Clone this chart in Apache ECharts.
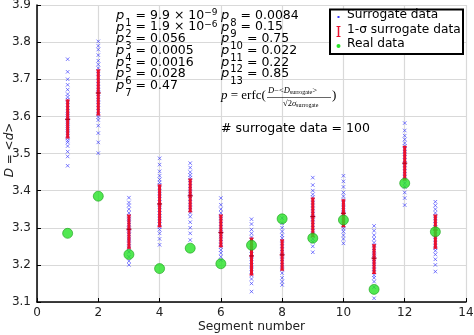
<!DOCTYPE html>
<html><head><meta charset="utf-8">
<script src="https://cdn.jsdelivr.net/npm/echarts@6/dist/echarts.min.js"></script>
<style>html,body{margin:0;padding:0;background:#fff}#c{width:474px;height:335px}</style>
</head><body><div id="c"></div>
<script>
// ---- data ----
const segments = [1,2,3,4,5,6,7,8,9,10,11,12,13];
const realData = [3.285,3.385,3.228,3.190,3.245,3.203,3.253,3.324,3.272,3.321,3.134,3.420,3.289];
const sigmaMean = [3.592,3.663,3.296,3.364,3.386,3.287,3.224,3.227,3.330,3.339,3.218,3.474,3.294];
const sigmaLow  = [3.542,3.604,3.245,3.303,3.343,3.249,3.173,3.186,3.276,3.303,3.177,3.429,3.245];
const sigmaHigh = [3.644,3.725,3.334,3.415,3.431,3.334,3.272,3.267,3.380,3.375,3.254,3.519,3.334];
const surrogateSeg1 = [3.467,3.492,3.505,3.52,3.53,3.535,3.542,3.548,3.555,3.56,3.565,3.57,3.575,3.58,3.585,3.59,3.595,3.6,3.605,3.61,3.615,3.622,3.63,3.638,3.645,3.652,3.66,3.672,3.685,3.7,3.72,3.754];
const surrogateSeg2 = [3.501,3.53,3.555,3.575,3.59,3.598,3.605,3.615,3.622,3.63,3.638,3.645,3.652,3.66,3.665,3.672,3.68,3.688,3.695,3.705,3.715,3.722,3.73,3.74,3.75,3.765,3.78,3.79,3.802];
const surrogateSeg3 = [3.20,3.21,3.222,3.235,3.245,3.25,3.258,3.265,3.27,3.275,3.282,3.288,3.292,3.298,3.302,3.308,3.315,3.32,3.325,3.332,3.34,3.35,3.36,3.368,3.381];
const surrogateSeg4 = [3.254,3.27,3.285,3.295,3.302,3.31,3.318,3.325,3.332,3.34,3.348,3.355,3.362,3.37,3.378,3.385,3.392,3.4,3.408,3.415,3.422,3.43,3.44,3.452,3.47,3.487];
const surrogateSeg5 = [3.267,3.285,3.3,3.315,3.33,3.34,3.348,3.355,3.362,3.37,3.378,3.385,3.392,3.398,3.405,3.412,3.42,3.428,3.435,3.442,3.45,3.462,3.474];
const surrogateSeg6 = [3.213,3.222,3.232,3.24,3.248,3.255,3.262,3.27,3.276,3.282,3.288,3.295,3.302,3.31,3.318,3.325,3.332,3.34,3.35,3.362,3.38];
const surrogateSeg7 = [3.128,3.15,3.162,3.172,3.18,3.188,3.195,3.2,3.208,3.215,3.222,3.23,3.238,3.245,3.252,3.26,3.268,3.275,3.285,3.295,3.31,3.323];
const surrogateSeg8 = [3.146,3.155,3.165,3.178,3.188,3.195,3.2,3.208,3.215,3.222,3.228,3.235,3.242,3.25,3.258,3.265,3.272,3.28,3.29,3.3,3.312,3.326];
const surrogateSeg9 = [3.234,3.25,3.262,3.27,3.278,3.285,3.292,3.3,3.308,3.315,3.322,3.33,3.338,3.345,3.352,3.36,3.368,3.375,3.382,3.39,3.4,3.415,3.435];
const surrogateSeg10 = [3.258,3.27,3.28,3.29,3.298,3.305,3.312,3.318,3.325,3.33,3.336,3.342,3.348,3.355,3.362,3.368,3.375,3.385,3.395,3.41,3.425,3.44];
const surrogateSeg11 = [3.11,3.14,3.155,3.165,3.172,3.18,3.188,3.195,3.202,3.208,3.215,3.22,3.226,3.232,3.238,3.245,3.252,3.26,3.27,3.28,3.292,3.305];
const surrogateSeg12 = [3.361,3.38,3.395,3.41,3.42,3.43,3.438,3.445,3.452,3.46,3.468,3.475,3.482,3.49,3.498,3.505,3.512,3.52,3.528,3.538,3.548,3.562,3.582];
const surrogateSeg13 = [3.182,3.2,3.215,3.228,3.238,3.245,3.252,3.26,3.268,3.275,3.282,3.29,3.296,3.302,3.31,3.318,3.325,3.332,3.34,3.35,3.36,3.37];
const surrogateAll = [surrogateSeg1,surrogateSeg2,surrogateSeg3,surrogateSeg4,surrogateSeg5,surrogateSeg6,surrogateSeg7,surrogateSeg8,surrogateSeg9,surrogateSeg10,surrogateSeg11,surrogateSeg12,surrogateSeg13];
const pValues = ['9.9 × 10^−9','1.9 × 10^−6','0.056','0.0005','0.0016','0.028','0.47','0.0084','0.15','0.75','0.022','0.22','0.85'];
const xTicks = [0,2,4,6,8,10,12,14];
const yTicks = [3.1,3.2,3.3,3.4,3.5,3.6,3.7,3.8,3.9];
const legendLabels = ['Surrogate data','1-σ surrogate data','Real data'];
const xTitle = 'Segment number';
const surrogateCount = 100;

// ---- build ----
const RED = '#e8102e', BLUE = '#3b3bff', GREEN = '#26e226';
const FONT = 'DejaVu Sans';
const surrogatePts = [];
surrogateAll.forEach((arr, i) => arr.forEach(v => surrogatePts.push([segments[i], v])));
const errData = segments.map((s, i) => [s, sigmaLow[i], sigmaHigh[i], sigmaMean[i]]);
const realPts = segments.map((s, i) => [s, realData[i]]);

const richStyles = {
  b: {fontFamily: FONT, fontSize: 12.5, lineHeight: 14, padding: [4,0,0,0], verticalAlign: 'top', color: '#000'},
  i: {fontFamily: FONT, fontStyle: 'italic', fontSize: 13, lineHeight: 14, padding: [4,0,0,0], verticalAlign: 'top', color: '#000'},
  s: {fontFamily: FONT, fontSize: 10, lineHeight: 10, padding: [13,0,0,1], verticalAlign: 'top', color: '#000'},
  u: {fontFamily: FONT, fontSize: 9, lineHeight: 9, padding: [3,0,0,0], verticalAlign: 'top', color: '#000'}
};
const graphics = [];
pValues.forEach((pv, k) => {
  const col = k < 7 ? 0 : 1;
  const row = k < 7 ? k : k - 7;
  const parts = pv.split('^');
  let txt = '{i|p}{s|' + (k + 1) + '}{b| = ' + parts[0] + '}';
  if (parts[1]) txt += '{u|' + parts[1] + '}';
  graphics.push({type: 'text', left: col ? 221 : 116, top: 5 + 11.7 * row, z: 50,
    style: {text: txt, rich: richStyles}});
});
// formula
const SERIF = 'Liberation Serif';
graphics.push({type: 'text', left: 221, top: 89, z: 50, style: {
  text: '{i|p} = erfc(', rich: {i: {fontStyle: 'italic', fontFamily: SERIF, fontSize: 13}},
  fontFamily: SERIF, fontSize: 13, fill: '#000'}});
graphics.push({type: 'text', left: 268, top: 86, z: 50, style: {
  text: '{i|D}−<{i|D}{s|surrogate}>', rich: {i: {fontStyle: 'italic', fontFamily: SERIF, fontSize: 8.5}, s: {fontFamily: SERIF, fontSize: 6, padding: [4,0,0,0]}},
  fontFamily: SERIF, fontSize: 8.5, fill: '#000'}});
graphics.push({type: 'line', z: 50, shape: {x1: 267, y1: 97.5, x2: 331, y2: 97.5}, style: {stroke: '#000', lineWidth: 0.6}});
graphics.push({type: 'text', left: 283, top: 99, z: 50, style: {
  text: '√2{i|σ}{s|surrogate}', rich: {i: {fontStyle: 'italic', fontFamily: SERIF, fontSize: 8.5}, s: {fontFamily: SERIF, fontSize: 6, padding: [4,0,0,0]}},
  fontFamily: SERIF, fontSize: 8.5, fill: '#000'}});
graphics.push({type: 'text', left: 332, top: 89, z: 50, style: {text: ')', fontFamily: SERIF, fontSize: 13, fill: '#000'}});
// surrogate count
graphics.push({type: 'text', left: 221, top: 122, z: 50, style: {
  text: '# surrogate data = ' + surrogateCount, fontFamily: FONT, fontSize: 12.5, fill: '#000'}});
// axis titles
graphics.push({type: 'text', x: 10, y: 150, rotation: Math.PI / 2, z: 50, style: {
  text: '{i|D} = <{i|d}>', align: 'center', verticalAlign: 'middle', fontFamily: FONT, fontSize: 12, fill: '#222',
  rich: {i: {fontFamily: FONT, fontStyle: 'italic', fontSize: 12, color: '#222'}}}});
graphics.push({type: 'text', x: 251.5, y: 326.5, z: 50, style: {
  text: xTitle, align: 'center', verticalAlign: 'middle', fontFamily: FONT, fontSize: 12.3, fill: '#222'}});
// legend
graphics.push({type: 'rect', z: 60, shape: {x: 330, y: 9.5, width: 133, height: 44.5},
  style: {fill: '#fff', stroke: '#000', lineWidth: 2}});
const legY = [17, 31.5, 46];
graphics.push({type: 'rect', z: 61, shape: {x: 337.5, y: legY[0] - 1, width: 2, height: 2}, style: {fill: BLUE}});
graphics.push({type: 'line', z: 61, shape: {x1: 338.5, y1: legY[1] - 5, x2: 338.5, y2: legY[1] + 5}, style: {stroke: RED, lineWidth: 1.5}});
graphics.push({type: 'line', z: 61, shape: {x1: 336.5, y1: legY[1] - 5, x2: 340.5, y2: legY[1] - 5}, style: {stroke: RED, lineWidth: 1}});
graphics.push({type: 'line', z: 61, shape: {x1: 336.5, y1: legY[1] + 5, x2: 340.5, y2: legY[1] + 5}, style: {stroke: RED, lineWidth: 1}});
graphics.push({type: 'circle', z: 61, shape: {cx: 338.5, cy: legY[2], r: 2}, style: {fill: GREEN}});
legendLabels.forEach((t, i) => graphics.push({type: 'text', z: 61, left: 347, top: legY[i] - 8,
  style: {text: t, fontFamily: FONT, fontSize: 12.2, fill: '#000'}}));

const chart = echarts.init(document.getElementById('c'), null, {renderer: 'canvas'});
chart.setOption({
  animation: false,
  backgroundColor: '#fff',
  grid: {left: 37, right: 8, top: 5, bottom: 33, outerBoundsMode: 'none', containLabel: false},
  xAxis: {
    type: 'value', min: xTicks[0], max: xTicks[xTicks.length - 1], interval: 2,
    axisLine: {show: true, lineStyle: {color: '#000', width: 1.5}},
    axisTick: {show: true, inside: true, length: 4, lineStyle: {color: '#000', width: 1}},
    axisLabel: {fontFamily: FONT, fontSize: 12, color: '#222', margin: 5},
    splitLine: {show: true, lineStyle: {color: '#d9d9d9', width: 1.2}}
  },
  yAxis: {
    type: 'value', min: yTicks[0], max: yTicks[yTicks.length - 1], interval: 0.1,
    axisLine: {show: true, lineStyle: {color: '#000', width: 1.5}},
    axisTick: {show: true, inside: true, length: 4, lineStyle: {color: '#000', width: 1}},
    axisLabel: {fontFamily: FONT, fontSize: 12, color: '#222', margin: 6, formatter: v => v.toFixed(1)},
    splitLine: {show: true, lineStyle: {color: '#d9d9d9', width: 1.2}}
  },
  series: [
    {name: legendLabels[0], type: 'scatter', data: surrogatePts, z: 2,
      symbol: 'path://M0,0L10,10M10,0L0,10', symbolSize: 3.5,
      itemStyle: {color: BLUE, borderColor: BLUE, borderWidth: 0.8, opacity: 0.85}},
    {name: legendLabels[1], type: 'custom', data: errData, z: 3,
      encode: {x: 0, y: [1, 2]},
      renderItem: function (params, api) {
        const x = api.value(0);
        const pL = api.coord([x, api.value(1)]);
        const pH = api.coord([x, api.value(2)]);
        const pM = api.coord([x, api.value(3)]);
        const st = {stroke: RED, lineWidth: 1.2};
        return {type: 'group', children: [
          {type: 'line', shape: {x1: pL[0], y1: pL[1], x2: pH[0], y2: pH[1]}, style: {stroke: RED, lineWidth: 3}},
          {type: 'line', shape: {x1: pL[0] - 2, y1: pL[1], x2: pL[0] + 2, y2: pL[1]}, style: st},
          {type: 'line', shape: {x1: pH[0] - 2, y1: pH[1], x2: pH[0] + 2, y2: pH[1]}, style: st},
          {type: 'line', shape: {x1: pM[0] - 2.5, y1: pM[1], x2: pM[0] + 2.5, y2: pM[1]}, style: {stroke: '#b00020', lineWidth: 1.2}}
        ]};
      }},
    {name: legendLabels[2], type: 'scatter', data: realPts, z: 4,
      symbol: 'circle', symbolSize: 10,
      itemStyle: {color: GREEN, borderColor: '#1ea01e', borderWidth: 0.8}}
  ],
  graphic: graphics
});
</script></body></html>
